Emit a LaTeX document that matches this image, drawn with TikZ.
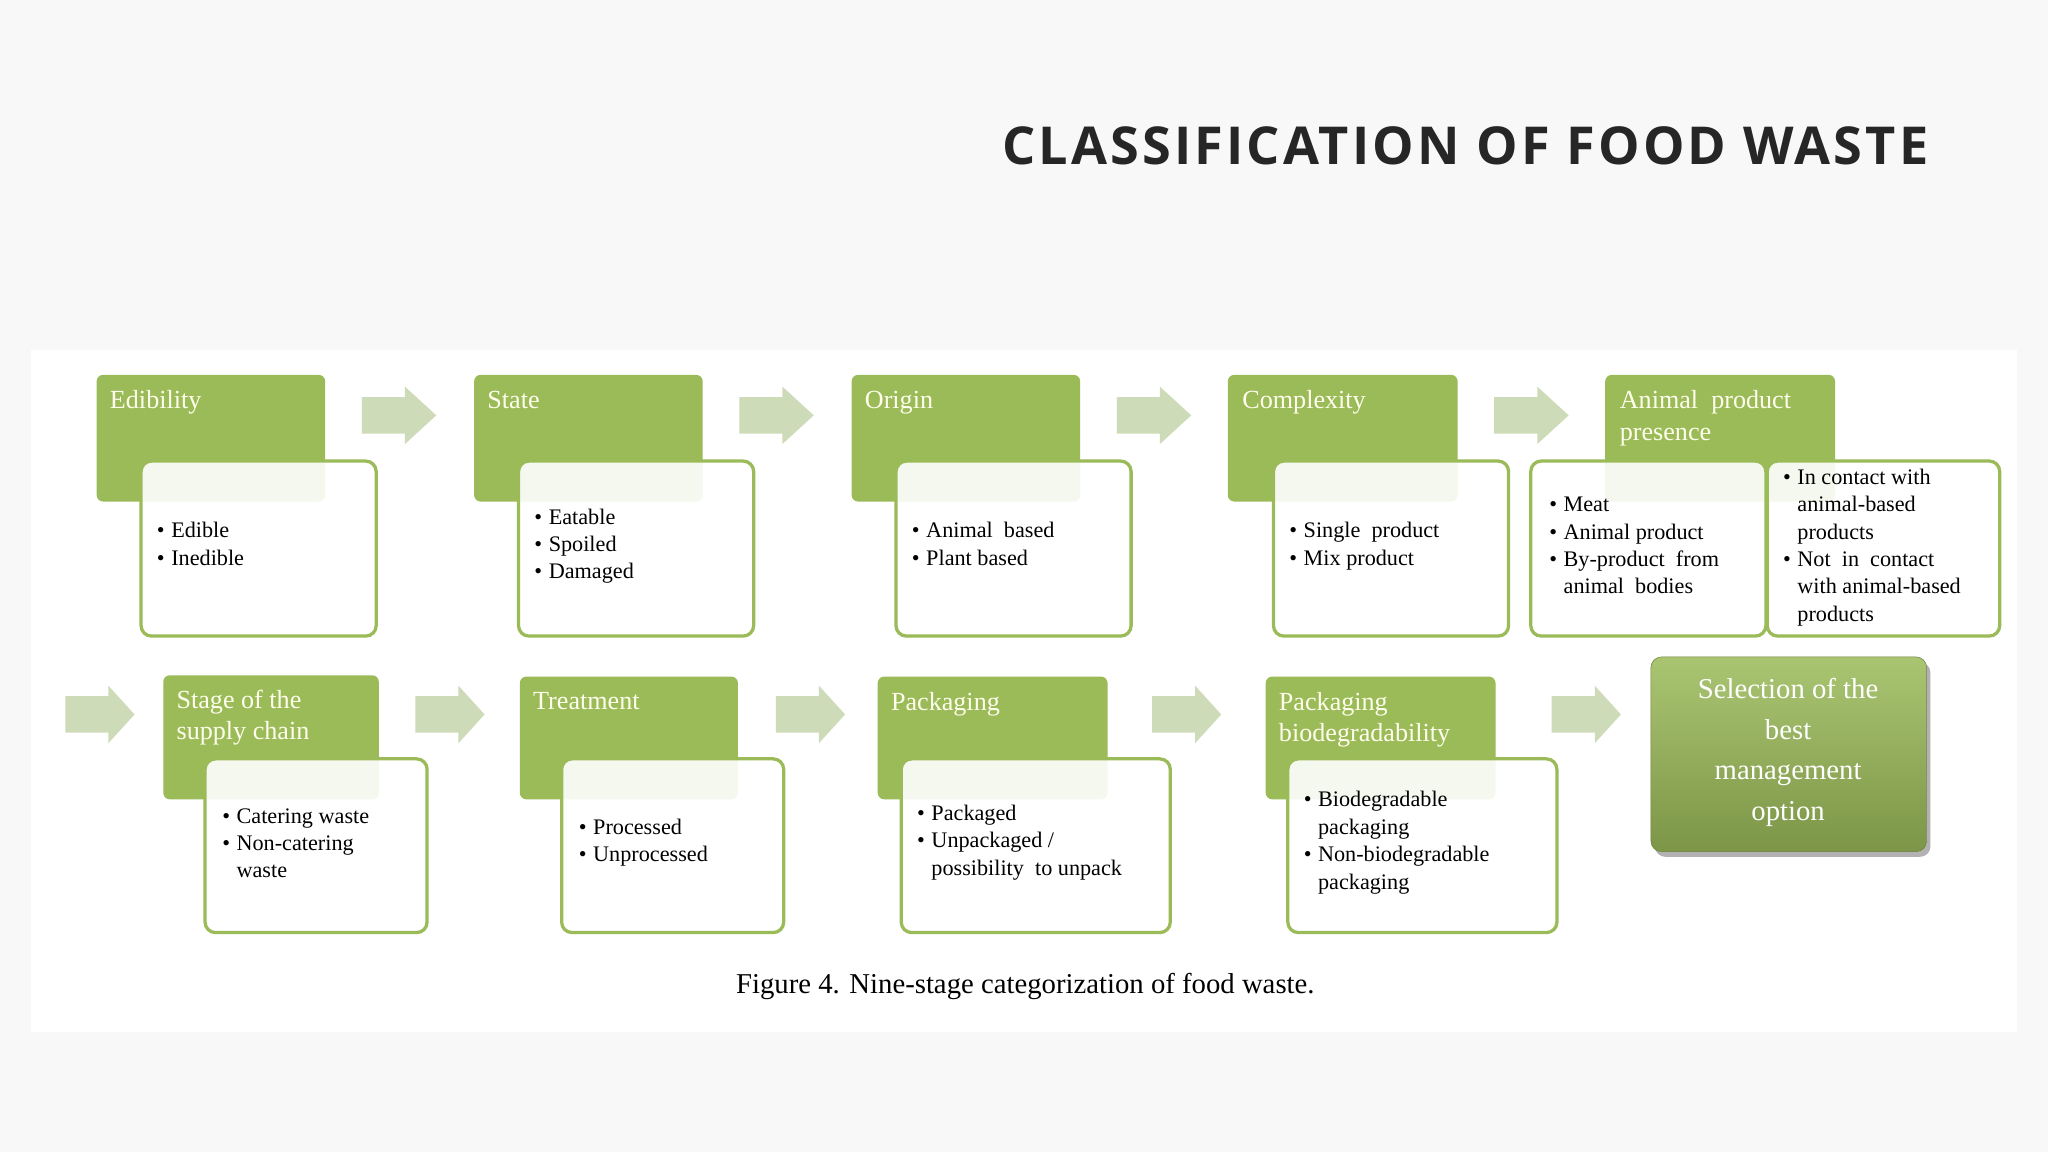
\documentclass[tikz,border=0pt]{standalone}
\usepackage{fontspec}
\setmainfont{Liberation Serif}
\newfontfamily\titlefont[LetterSpace=6]{Open Sans}
\begin{document}
\definecolor{gr}{HTML}{9BBB59}
\definecolor{lgr}{HTML}{CEDBB8}
\definecolor{bg}{HTML}{F8F8F9}
\newcommand{\bl}[1]{\begin{tabular}{@{}l@{\hspace{5pt}}l@{}}#1\end{tabular}}
\begin{tikzpicture}[x=1pt,y=-1pt,
  head/.style={fill=gr,rounded corners=5pt},
  body/.style={draw=gr,line width=2.5pt,fill=white,fill opacity=0.9,rounded corners=8pt},
  htxt/.style={anchor=north west,text=white!93!yellow,font=\fontsize{20}{24}\selectfont,align=left,inner sep=0pt},
  btxt/.style={anchor=west,text=black,font=\fontsize{17}{21}\selectfont,align=left,inner sep=0pt},
  arr/.style={fill=lgr}]
\useasboundingbox (0,0) rectangle (1568,882);
\fill[bg] (0,0) rectangle (1568,882);
\fill[white] (24,268) rectangle (1544,790);
\node[anchor=east,font=\titlefont\bfseries\fontsize{40}{44}\selectfont,text=black!85] (title) at (1480,112) {CLASSIFICATION OF FOOD WASTE};
\newcommand{\stage}[9]{%
  \fill[head] (#1,#2) rectangle (#3,#4);
  \draw[body] (#5,#6) rectangle (#7,#8);
  \node[htxt] (h#9) at (#1+10,#2+12) {};}
\newcommand{\arrowat}[3]{%
  \fill[arr] (#1,#3-14) -- (#1+33,#3-14) -- (#1+33,#3-22) -- (#2,#3) -- (#1+33,#3+22) -- (#1+33,#3+14) -- (#1,#3+14) -- cycle;}
% row 1
\stage{74}{287}{249}{384}{108}{353}{288}{487}{a}
\stage{363}{287}{538}{384}{397}{353}{577}{487}{b}
\stage{652}{287}{827}{384}{686}{353}{866}{487}{c}
\stage{940}{287}{1116}{384}{975}{353}{1155}{487}{d}
\fill[head] (1229,287) rectangle (1405,384);
\draw[body] (1172,353) rectangle (1352,487);
\draw[body] (1353,353) rectangle (1531,487);
\arrowat{277}{334}{318}\arrowat{566}{623}{318}\arrowat{855}{912}{318}\arrowat{1144}{1201}{318}
% row 2
\stage{125}{517}{290}{612}{157}{581}{327}{714}{e}
\stage{398}{518}{565}{612}{430}{581}{600}{714}{f}
\stage{672}{518}{848}{612}{690}{581}{896}{714}{g}
\stage{969}{518}{1145}{612}{986}{581}{1192}{714}{h}
\arrowat{50}{103}{547}\arrowat{318}{371}{547}\arrowat{594}{647}{547}\arrowat{882}{935}{547}\arrowat{1188}{1241}{547}
% final box
\fill[black!30,rounded corners=8pt] (1267,507) rectangle (1478,656);
\shade[top color=gr!85!white,bottom color=gr!80!black,rounded corners=8pt,draw=gr!70!black] (1264,503) rectangle (1475,652);
\node[font=\fontsize{22}{31}\selectfont,text=white,align=center] (sel) at (1369,576) {Selection of the\\best\\management\\option};
% headers
\node[htxt] (t1) at (84,299) {Edibility};
\node[htxt] (t2) at (373,299) {State};
\node[htxt] (t3) at (662,299) {Origin};
\node[htxt] (t4) at (951,299) {Complexity};
\node[htxt] (t5) at (1240,299) {Animal\ \ product\\presence};
\node[htxt] (t6) at (135,528) {Stage of the\\supply chain};
\node[htxt] (t7) at (408,530) {Treatment};
\node[htxt] (t8) at (682,530) {Packaging};
\node[htxt] (t9) at (979,530) {Packaging\\biodegradability};
% bodies
\node[btxt] (b1) at (120,418) {\bl{\textbullet & Edible\\ \textbullet & Inedible}};
\node[btxt] (b2) at (409,418) {\bl{\textbullet & Eatable\\ \textbullet & Spoiled\\ \textbullet & Damaged}};
\node[btxt] (b3) at (698,418) {\bl{\textbullet & Animal\ \ based\\ \textbullet & Plant based}};
\node[btxt] (b4) at (987,418) {\bl{\textbullet & Single\ \ product\\ \textbullet & Mix product}};
\node[btxt] (b5) at (1186,419) {\bl{\textbullet & Meat\\ \textbullet & Animal product\\ \textbullet & By-product\ \ from\\ & animal\ \ bodies}};
\node[btxt] (b6) at (1365,419) {\bl{\textbullet & In contact with\\ & animal-based\\ & products\\ \textbullet & Not\ \ in\ \ contact\\ & with animal-based\\ & products}};
\node[btxt] (b7) at (170,647) {\bl{\textbullet & Catering waste\\ \textbullet & Non-catering\\ & waste}};
\node[btxt] (b8) at (443,645) {\bl{\textbullet & Processed\\ \textbullet & Unprocessed}};
\node[btxt] (b9) at (702,645) {\bl{\textbullet & Packaged\\ \textbullet & Unpackaged /\\ & possibility\ \ to unpack}};
\node[btxt] (b10) at (998,645) {\bl{\textbullet & Biodegradable\\ & packaging\\ \textbullet & Non-biodegradable\\ & packaging}};
\node[font=\fontsize{22}{26}\selectfont] (cap) at (785,755) {Figure 4. Nine-stage categorization of food waste.};
\end{tikzpicture}
\end{document}
